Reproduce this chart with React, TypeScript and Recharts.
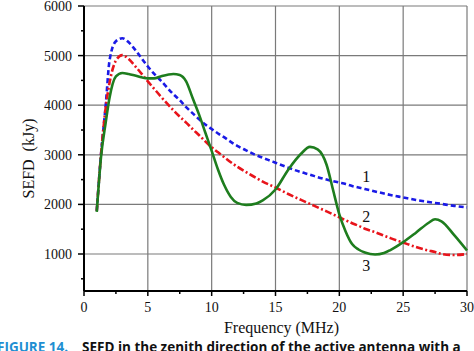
import { LineChart, Line, XAxis, YAxis, CartesianGrid, ReferenceDot, Label } from "recharts"

const freq = [1, 1.33, 1.7, 2, 2.5, 3, 3.5, 4, 5, 5.5, 6, 7, 7.5, 8, 8.5, 9, 9.5, 10, 10.5, 11, 11.5, 12, 12.7, 13.5, 14, 15, 16, 17, 17.7, 18.3, 19, 19.5, 20, 20.5, 21, 21.5, 22, 22.8, 23.5, 24, 25, 26, 27, 27.5, 28, 29, 30]

// curve 1 (blue dashed)
const sefd1 = [1870, 3000, 4000, 4900, 5290, 5350, 5270, 5120, 4780, 4630, 4500, 4220, 4100, 3960, 3840, 3720, 3610, 3520, 3430, 3350, 3260, 3180, 3090, 2990, 2940, 2840, 2740, 2650, 2600, 2550, 2500, 2470, 2440, 2410, 2370, 2340, 2310, 2260, 2220, 2190, 2140, 2090, 2050, 2030, 2010, 1970, 1940]
// curve 2 (red dash-dot)
const sefd2 = [1870, 3000, 3950, 4450, 4900, 5010, 4930, 4790, 4480, 4330, 4180, 3900, 3770, 3650, 3520, 3400, 3270, 3150, 3050, 2950, 2850, 2760, 2650, 2530, 2460, 2340, 2210, 2090, 2010, 1940, 1860, 1800, 1740, 1680, 1620, 1570, 1510, 1440, 1370, 1320, 1230, 1140, 1070, 1040, 1000, 980, 1000]
// curve 3 (green solid)
const sefd3 = [1850, 2950, 3650, 4150, 4580, 4650, 4630, 4600, 4540, 4540, 4580, 4630, 4610, 4480, 4150, 3820, 3450, 3080, 2700, 2380, 2150, 2030, 1990, 2020, 2080, 2300, 2700, 3020, 3160, 3110, 2800, 2300, 1800, 1450, 1200, 1090, 1030, 990, 1020, 1080, 1240, 1430, 1630, 1700, 1660, 1380, 1070]

const xTicks = [0, 2.5, 5, 7.5, 10, 12.5, 15, 17.5, 20, 22.5, 25, 27.5, 30]
const yTicks = [500, 1000, 1500, 2000, 2500, 3000, 3500, 4000, 4500, 5000, 5500, 6000]
const xGrid = [5, 10, 15, 20, 25, 30]
const yGrid = [1000, 2000, 3000, 4000, 5000, 6000]

const data = freq.map((f, i) => ({ f, s1: sefd1[i], s2: sefd2[i], s3: sefd3[i] }))

const serif = "'Liberation Serif', 'Times New Roman', serif"

const XTick = ({ x, y, payload }: any) => {
  const major = payload.value % 5 === 0
  return (
    <g>
      <line x1={x} x2={x} y1={y} y2={y + (major ? 5 : 3)} stroke="#000" strokeWidth={1.5} />
      {major && (
        <text x={x} y={y + 21} textAnchor="middle" fontFamily={serif} fontSize={14} fill="#111">
          {payload.value}
        </text>
      )}
    </g>
  )
}

const YTick = ({ x, y, payload }: any) => {
  const major = payload.value % 1000 === 0
  return (
    <g>
      <line x1={x - (major ? 6 : 3)} x2={x} y1={y} y2={y} stroke="#000" strokeWidth={1.5} />
      {major && (
        <text x={x - 12} y={y + 5} textAnchor="end" fontFamily={serif} fontSize={14} fill="#111">
          {payload.value}
        </text>
      )}
    </g>
  )
}

const captionStyle = {
  position: "absolute" as const,
  top: 341,
  whiteSpace: "nowrap" as const,
  fontFamily: "'Open Sans', sans-serif",
  fontWeight: 700,
  fontSize: 13.5,
  lineHeight: "13.5px",
}

export default function App() {
  return (
    <div style={{ position: "absolute", left: 0, top: 0, width: 474, height: 351, overflow: "hidden", background: "#fff" }}>
      <LineChart width={474} height={351} data={data} margin={{ top: 6, right: 7, bottom: 18, left: 0 }}>
        <CartesianGrid stroke="#7a7a7a" strokeWidth={1.2} horizontalValues={yGrid} verticalValues={xGrid} />
        <XAxis
          dataKey="f"
          type="number"
          domain={[0, 30]}
          ticks={xTicks}
          interval={0}
          tickSize={0}
          tickMargin={0}
          tick={<XTick />}
          height={42}
          axisLine={{ stroke: "#000", strokeWidth: 2 }}
        >
          <Label value="Frequency (MHz)" position="insideBottom" offset={0} dx={6} fontFamily={serif} fontSize={16} fill="#111" />
        </XAxis>
        <YAxis
          type="number"
          domain={[254, 6000]}
          ticks={yTicks}
          interval={0}
          tickSize={0}
          tickMargin={0}
          tick={<YTick />}
          width={84}
          axisLine={{ stroke: "#000", strokeWidth: 2 }}
          allowDataOverflow
        >
          <Label
            content={({ viewBox }: any) => {
              const cx = viewBox.x + 28
              const cy = viewBox.y + viewBox.height / 2 + 10
              return (
                <text x={cx} y={cy} transform={`rotate(-90 ${cx} ${cy})`} textAnchor="middle" dominantBaseline="central" fontFamily={serif} fontSize={16} fill="#111" xmlSpace="preserve">
                  {"SEFD  (kJy)"}
                </text>
              )
            }}
          />
        </YAxis>
        <Line type="monotone" dataKey="s1" stroke="#1a1ae6" strokeWidth={2.6} strokeDasharray="5 3" dot={false} isAnimationActive={false} />
        <Line type="monotone" dataKey="s2" stroke="#e8141b" strokeWidth={2.6} strokeDasharray="7 2.5 2 2.5" dot={false} isAnimationActive={false} />
        <Line type="monotone" dataKey="s3" stroke="#1e7d1e" strokeWidth={2.6} dot={false} isAnimationActive={false} />
        <ReferenceDot x={22.1} y={2560} r={0} fill="none" stroke="none" label={{ value: "1", position: "center", fontFamily: serif, fontSize: 16, fill: "#111" }} />
        <ReferenceDot x={22.1} y={1750} r={0} fill="none" stroke="none" label={{ value: "2", position: "center", fontFamily: serif, fontSize: 16, fill: "#111" }} />
        <ReferenceDot x={22.1} y={765} r={0} fill="none" stroke="none" label={{ value: "3", position: "center", fontFamily: serif, fontSize: 16, fill: "#111" }} />
      </LineChart>
      <div style={{ ...captionStyle, left: -3, color: "#1f8fd2" }}>FIGURE 14.</div>
      <div style={{ ...captionStyle, left: 82, color: "#111" }}>SEFD in the zenith direction of the active antenna with a</div>
    </div>
  )
}
